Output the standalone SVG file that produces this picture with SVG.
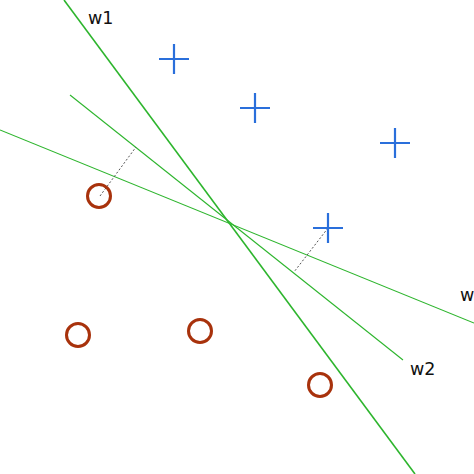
<svg xmlns="http://www.w3.org/2000/svg" width="474" height="474" viewBox="0 0 474 474">
<style>
.ln{stroke:#2db52d;fill:none}
.pl{stroke:#2a6fdb;stroke-width:2.2;fill:none}
.ci{stroke:#a8320c;stroke-width:3;fill:none}
.dt{stroke:#555;stroke-width:1;stroke-dasharray:2,2;fill:none}
.lb{font-family:"DejaVu Sans",sans-serif;font-size:17.5px;fill:#111}
</style>
<rect width="474" height="474" fill="#fff"/>
<g id="connectors">
<line id="w1" class="ln" stroke-width="1.6" x1="64" y1="0" x2="415" y2="474"/>
<line id="w2" class="ln" stroke-width="1.1" x1="70" y1="95" x2="403" y2="360"/>
<line id="w3" class="ln" stroke-width="1.1" x1="0" y1="130" x2="474" y2="323"/>
<line class="dt" x1="100" y1="196" x2="136" y2="147"/>
<line class="dt" x1="328" y1="228" x2="294" y2="272"/>
</g>
<g id="plus1"><path class="pl" d="M159 59H189M174 44V74"/></g>
<g id="plus2"><path class="pl" d="M240 108H270M255 93V123"/></g>
<g id="plus3"><path class="pl" d="M380 143H410M395 128V158"/></g>
<g id="plus4"><path class="pl" d="M313 228H343M328 213V243"/></g>
<g id="circle1"><circle class="ci" cx="99" cy="196" r="11.5"/></g>
<g id="circle2"><circle class="ci" cx="78" cy="335" r="11.5"/></g>
<g id="circle3"><circle class="ci" cx="200" cy="331" r="11.5"/></g>
<g id="circle4"><circle class="ci" cx="320" cy="385" r="11.5"/></g>
<g id="labels">
<text class="lb" x="88" y="24">w1</text>
<text class="lb" x="410" y="375">w2</text>
<text class="lb" x="460" y="301">w</text>
</g>
</svg>
